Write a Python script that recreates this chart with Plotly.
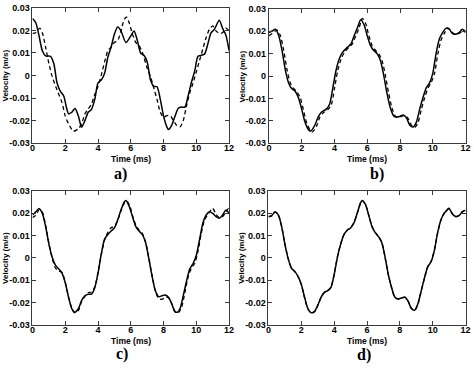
import plotly.graph_objects as go

# ---------------- data ----------------
t_a_solid = [0, 0.2, 0.4, 0.6, 0.8, 1.1, 1.3, 1.5, 1.7, 1.9, 2.1, 2.2, 2.4, 2.6, 2.8, 3.0, 3.2, 3.4, 3.6, 3.8,
             4.0, 4.2, 4.4, 4.6, 4.8, 5.0, 5.2, 5.4, 5.7, 6.0, 6.2, 6.4, 6.6, 6.8, 7.0, 7.2, 7.4, 7.6, 7.8,
             8.0, 8.2, 8.3, 8.5, 8.7, 8.9, 9.1, 9.3, 9.5, 9.7, 9.9, 10.1, 10.3, 10.5, 10.7, 10.9, 11.1,
             11.4, 11.6, 11.8, 12.0]
v_a_solid = [0.0253, 0.0234, 0.0176, 0.011, 0.0087, 0.0085, 0.0053, -0.0033, -0.007, -0.009, -0.015, -0.017,
             -0.0163, -0.0146, -0.018, -0.0229, -0.020, -0.0163, -0.015, -0.0106, -0.0033, -0.002, 0.001,
             0.0082, 0.0126, 0.0184, 0.0215, 0.0198, 0.0147, 0.0176, 0.0198, 0.0155, 0.0100, 0.009, 0.006,
             -0.0019, -0.0048, -0.005, -0.0106, -0.018, -0.0228, -0.024, -0.022, -0.018, -0.0145, -0.014,
             -0.014, -0.009, -0.003, 0.002, 0.0085, 0.009, 0.0095, 0.014, 0.019, 0.0205, 0.0245, 0.021,
             0.018, 0.011]

t_a_dash = [0, 0.2, 0.45, 0.6, 0.8, 1.0, 1.2, 1.5, 1.8, 2.0, 2.2, 2.5, 2.8, 3.0, 3.2, 3.4, 3.6, 3.8, 4.0,
            4.2, 4.4, 4.6, 4.8, 5.0, 5.2, 5.4, 5.6, 5.75, 5.9, 6.1, 6.3, 6.5, 6.7, 7.0, 7.2, 7.4, 7.6, 7.8,
            8.0, 8.2, 8.4, 8.6, 8.8, 9.0, 9.2, 9.4, 9.6, 9.8, 10.0, 10.2, 10.4, 10.6, 10.8, 11.0, 11.2,
            11.4, 11.6, 11.8, 12.0]
v_a_dash = [0.0187, 0.019, 0.021, 0.019, 0.0126, 0.0053, -0.0004, -0.0065, -0.012, -0.018, -0.0214, -0.0247,
            -0.0236, -0.0214, -0.017, -0.0149, -0.0127, -0.0084, -0.0048, 0.0003, 0.006, 0.011, 0.0126,
            0.0147, 0.0155, 0.0198, 0.0249, 0.0259, 0.0234, 0.0184, 0.0147, 0.0133, 0.0104, 0.0032, -0.0004,
            -0.0055, -0.0106, -0.0163, -0.0185, -0.0178, -0.0178, -0.020, -0.0221, -0.0228, -0.020, -0.0134,
            -0.0077, -0.0033, 0.0017, 0.0068, 0.0119, 0.0169, 0.0205, 0.022, 0.0198, 0.0187, 0.019, 0.021,
            0.0198]

t_b_solid = [0, 0.2, 0.4, 0.6, 0.8, 1.0, 1.2, 1.4, 1.6, 1.8, 2.0, 2.2, 2.4, 2.55, 2.8, 3.0, 3.2, 3.5, 3.7,
             3.9, 4.1, 4.3, 4.5, 4.8, 5.0, 5.2, 5.4, 5.6, 5.8, 6.0, 6.2, 6.4, 6.6, 6.8, 7.0, 7.2, 7.4, 7.6,
             7.8, 8.0, 8.2, 8.4, 8.6, 8.8, 9.0, 9.2, 9.4, 9.6, 9.8, 10.0, 10.2, 10.4, 10.6, 10.8, 11.0,
             11.2, 11.4, 11.6, 11.8, 12.0]
v_b_solid = [0.0194, 0.0201, 0.0209, 0.018, 0.0114, 0.0027, -0.0031, -0.0057, -0.0068, -0.0097, -0.0148,
             -0.0206, -0.0239, -0.0246, -0.022, -0.0184, -0.0162, -0.0148, -0.0126, -0.0053, 0.0027, 0.0078,
             0.0107, 0.0129, 0.0143, 0.018, 0.0216, 0.0252, 0.023, 0.018, 0.0136, 0.0114, 0.010, 0.007,
             0.0005, -0.0075, -0.014, -0.0177, -0.0184, -0.018, -0.0174, -0.0188, -0.022, -0.0228, -0.0206,
             -0.0148, -0.0097, -0.0053, -0.0031, 0.0012, 0.010, 0.0165, 0.0194, 0.0213, 0.0209, 0.019,
             0.0187, 0.0194, 0.0209, 0.0194]

t_b_dash = [0, 0.2, 0.5, 0.7, 0.9, 1.1, 1.3, 1.5, 1.7, 1.9, 2.1, 2.3, 2.5, 2.65, 2.9, 3.1, 3.3, 3.6, 3.8,
            4.0, 4.2, 4.4, 4.6, 4.9, 5.1, 5.3, 5.5, 5.7, 5.9, 6.1, 6.3, 6.5, 6.7, 6.9, 7.1, 7.3, 7.5, 7.7,
            7.9, 8.1, 8.3, 8.5, 8.7, 8.9, 9.1, 9.3, 9.5, 9.7, 9.9, 10.1, 10.3, 10.5, 10.7, 10.9, 11.1,
            11.3, 11.5, 11.7, 11.9, 12.0]
v_b_dash = [0.018, 0.019, 0.0205, 0.018, 0.0115, 0.003, -0.003, -0.0055, -0.007, -0.0095, -0.015, -0.021,
            -0.024, -0.025, -0.0225, -0.0185, -0.0165, -0.015, -0.013, -0.0055, 0.0025, 0.0075, 0.0105,
            0.013, 0.0145, 0.018, 0.0215, 0.0258, 0.0235, 0.018, 0.0135, 0.0115, 0.010, 0.007, 0.0005,
            -0.0075, -0.014, -0.0178, -0.0185, -0.018, -0.0176, -0.019, -0.022, -0.023, -0.0208, -0.015,
            -0.0098, -0.0055, -0.003, 0.001, 0.0095, 0.016, 0.019, 0.0215, 0.0205, 0.0188, 0.0187, 0.0195,
            0.0205, 0.020]

t_c_solid = [0, 0.2, 0.4, 0.6, 0.8, 1.0, 1.2, 1.4, 1.6, 1.8, 2.0, 2.2, 2.4, 2.55, 2.8, 3.0, 3.2, 3.4, 3.6,
             3.8, 4.0, 4.2, 4.4, 4.6, 4.8, 5.0, 5.2, 5.4, 5.6, 5.7, 5.9, 6.1, 6.3, 6.5, 6.7, 6.9, 7.1, 7.3,
             7.5, 7.7, 7.9, 8.1, 8.3, 8.5, 8.7, 8.85, 9.0, 9.2, 9.4, 9.6, 9.8, 10.0, 10.2, 10.4, 10.6,
             10.8, 11.0, 11.2, 11.4, 11.6, 11.8, 12.0]
v_c_solid = [0.0192, 0.0206, 0.0221, 0.0199, 0.0141, 0.0062, 0.0004, -0.0032, -0.0049, -0.0068, -0.0111,
             -0.0176, -0.0227, -0.0244, -0.0227, -0.019, -0.0169, -0.0162, -0.0162, -0.0133, -0.0068,
             0.0019, 0.0084, 0.0105, 0.012, 0.0134, 0.017, 0.0214, 0.025, 0.0257, 0.0231, 0.0185, 0.0141,
             0.012, 0.0105, 0.0069, -0.0003, -0.0082, -0.0147, -0.0173, -0.0169, -0.0166, -0.0176, -0.0205,
             -0.0241, -0.0242, -0.0227, -0.0169, -0.0104, -0.0049, -0.0025, 0.0012, 0.0084, 0.0156, 0.0192,
             0.0206, 0.0199, 0.0185, 0.0177, 0.0192, 0.0214, 0.0199]

t_c_dash = [0, 0.2, 0.4, 0.6, 0.8, 1.0, 1.2, 1.4, 1.6, 1.8, 2.0, 2.2, 2.4, 2.6, 2.8, 3.0, 3.2, 3.4, 3.6,
            3.8, 4.0, 4.2, 4.4, 4.6, 4.8, 5.0, 5.2, 5.4, 5.6, 5.75, 5.95, 6.1, 6.3, 6.5, 6.7, 6.9, 7.1, 7.3,
            7.5, 7.7, 7.9, 8.1, 8.3, 8.5, 8.7, 8.9, 9.1, 9.3, 9.5, 9.7, 9.9, 10.1, 10.3, 10.5, 10.7, 10.9,
            11.0, 11.2, 11.4, 11.6, 11.8, 11.95, 12.0]
v_c_dash = [0.018, 0.019, 0.0215, 0.0205, 0.0145, 0.0065, 0.0, -0.0045, -0.0058, -0.0065, -0.011, -0.0175,
            -0.0225, -0.0245, -0.0235, -0.0195, -0.0172, -0.0155, -0.0152, -0.013, -0.0065, 0.0015, 0.008,
            0.0115, 0.0135, 0.014, 0.0168, 0.021, 0.0245, 0.0255, 0.023, 0.019, 0.0148, 0.0125, 0.011,
            0.0072, 0.0, -0.008, -0.0148, -0.0182, -0.0185, -0.0175, -0.0178, -0.0205, -0.0238, -0.0245,
            -0.022, -0.0155, -0.0085, -0.0045, -0.0025, 0.003, 0.011, 0.017, 0.0195, 0.0215, 0.0222,
            0.0195, 0.018, 0.0185, 0.0205, 0.022, 0.0215]

t_d_solid = [0, 0.2, 0.4, 0.6, 0.8, 1.0, 1.2, 1.4, 1.6, 1.8, 2.0, 2.2, 2.4, 2.6, 2.8, 3.0, 3.2, 3.4, 3.6,
             3.8, 4.0, 4.2, 4.4, 4.6, 4.8, 5.0, 5.2, 5.4, 5.6, 5.7, 5.9, 6.1, 6.3, 6.5, 6.7, 6.9, 7.1, 7.3,
             7.5, 7.7, 7.9, 8.1, 8.3, 8.5, 8.7, 8.9, 9.1, 9.3, 9.5, 9.7, 9.9, 10.1, 10.3, 10.5, 10.7, 10.9,
             11.0, 11.2, 11.4, 11.6, 11.8, 12.0]
v_d_solid = [0.0185, 0.0189, 0.0206, 0.0192, 0.0141, 0.0062, -0.0003, -0.0046, -0.006, -0.0082, -0.0118,
             -0.0176, -0.0226, -0.0245, -0.024, -0.0212, -0.0176, -0.0154, -0.0147, -0.0133, -0.0075,
             0.0004, 0.0062, 0.0105, 0.0124, 0.0134, 0.0156, 0.0199, 0.0245, 0.0257, 0.024, 0.0192, 0.0141,
             0.0113, 0.0095, 0.0069, 0.0004, -0.0075, -0.0133, -0.0176, -0.0183, -0.0179, -0.0176, -0.0193,
             -0.0226, -0.0234, -0.0205, -0.0147, -0.0089, -0.0039, -0.0017, 0.0033, 0.0113, 0.017, 0.0199,
             0.0216, 0.0221, 0.0196, 0.0185, 0.0189, 0.0206, 0.0213]

t_d_dash = [0, 0.2, 0.4, 0.6, 0.8, 1.0, 1.2, 1.4, 1.6, 1.8, 2.0, 2.2, 2.4, 2.6, 2.8, 3.0, 3.2, 3.4, 3.6,
            3.8, 4.0, 4.2, 4.4, 4.6, 4.8, 5.0, 5.2, 5.4, 5.6, 5.7, 5.9, 6.1, 6.3, 6.5, 6.7, 6.9, 7.1, 7.3,
            7.5, 7.7, 7.9, 8.1, 8.3, 8.5, 8.7, 8.9, 9.1, 9.3, 9.5, 9.7, 9.9, 10.1, 10.3, 10.5, 10.7, 10.9,
            11.0, 11.2, 11.4, 11.6, 11.8, 12.0]
v_d_dash = [0.0183, 0.0188, 0.0205, 0.0193, 0.0143, 0.0064, -0.0002, -0.0045, -0.0061, -0.0083, -0.012,
            -0.0178, -0.0228, -0.0246, -0.0241, -0.0213, -0.0177, -0.0155, -0.0146, -0.0131, -0.0073,
            0.0006, 0.0063, 0.0104, 0.0125, 0.0135, 0.0157, 0.0198, 0.0244, 0.0256, 0.0241, 0.0193, 0.0142,
            0.0114, 0.0096, 0.0068, 0.0003, -0.0076, -0.0134, -0.0177, -0.0184, -0.0178, -0.0175, -0.0192,
            -0.0225, -0.0235, -0.0206, -0.0148, -0.009, -0.0038, -0.0015, 0.0035, 0.0112, 0.0169, 0.02,
            0.0217, 0.0222, 0.0197, 0.0184, 0.019, 0.0207, 0.0212]

x_ticks = [0, 2, 4, 6, 8, 10, 12]
y_ticks = [-0.03, -0.02, -0.01, 0, 0.01, 0.02, 0.03]
y_tick_labels = ["-0.03", "-0.02", "-0.01", "0", "0.01", "0.02", "0.03"]
panel_labels = ["a)", "b)", "c)", "d)"]
x_title = "Time (ms)"
y_title = "Velocity (m/s)"

# ---------------- layout geometry ----------------
W, H = 474, 368
# pixel boxes: (left, right, top, bottom)
boxes = [(30, 230, 3, 142), (270.5, 470.5, 4, 142), (30, 230, 191, 329), (270, 470.5, 191, 329)]
label_pos = [(120, 174), (380, 174), (121, 359), (367, 360)]

series = [
    (t_a_solid, v_a_solid, t_a_dash, v_a_dash),
    (t_b_solid, v_b_solid, t_b_dash, v_b_dash),
    (t_c_solid, v_c_solid, t_c_dash, v_c_dash),
    (t_d_solid, v_d_solid, t_d_dash, v_d_dash),
]

fig = go.Figure()
axis_color = "#3a3a3a"
tickfont = dict(family="Liberation Sans, Arial", size=9, color="black", weight="bold")
annotations = []
layout_axes = {}

for i, (box, (ts, vs, td, vd)) in enumerate(zip(boxes, series)):
    n = i + 1
    xa = "x" if n == 1 else f"x{n}"
    ya = "y" if n == 1 else f"y{n}"
    l, r, t, b = box
    fig.add_trace(go.Scatter(x=td, y=vd, xaxis=xa, yaxis=ya, mode="lines",
                             line=dict(color="black", width=1.3, dash="4px,3px", shape="spline", smoothing=0.7),
                             showlegend=False))
    fig.add_trace(go.Scatter(x=ts, y=vs, xaxis=xa, yaxis=ya, mode="lines",
                             line=dict(color="black", width=1.5, shape="spline", smoothing=0.7),
                             showlegend=False))
    xkey = "xaxis" if n == 1 else f"xaxis{n}"
    ykey = "yaxis" if n == 1 else f"yaxis{n}"
    layout_axes[xkey] = dict(domain=[l / W, r / W], anchor=ya, range=[0, 12], tickvals=x_ticks,
                             ticks="inside", ticklen=4, tickcolor=axis_color, showline=True,
                             linecolor=axis_color, linewidth=1, mirror="ticks", showgrid=False,
                             zeroline=False, tickfont=tickfont, ticklabeloverflow="allow",
                             ticklabelstandoff=-4)
    layout_axes[ykey] = dict(domain=[1 - b / H, 1 - t / H], anchor=xa, range=[-0.03, 0.03],
                             tickvals=y_ticks, ticktext=y_tick_labels, ticks="inside", ticklen=4,
                             tickcolor=axis_color, showline=True, linecolor=axis_color, linewidth=1,
                             mirror="ticks", showgrid=False, zeroline=False, tickfont=tickfont,
                             ticklabeloverflow="allow")
    # x title
    annotations.append(dict(text=x_title, x=(l + r) / 2 / W, y=1 - (b + 16.5) / H, xref="paper",
                            yref="paper", showarrow=False, xanchor="center", yanchor="middle",
                            font=dict(family="Liberation Sans, Arial", size=8.5, color="black", weight="bold")))
    # y title
    annotations.append(dict(text=y_title, x=(l - 27) / W, y=1 - (t + b) / 2 / H, xref="paper",
                            yref="paper", showarrow=False, textangle=-90, xanchor="center",
                            yanchor="middle",
                            font=dict(family="Liberation Sans, Arial", size=8, color="black", weight="bold")))
    # panel label
    lx, ly = label_pos[i]
    annotations.append(dict(text=panel_labels[i], x=lx / W, y=1 - ly / H, xref="paper", yref="paper",
                            showarrow=False, xanchor="center", yanchor="middle",
                            font=dict(family="Liberation Serif, Times New Roman", size=16, color="black",
                                      weight="bold")))

fig.update_layout(width=W, height=H, margin=dict(l=0, r=0, t=0, b=0), paper_bgcolor="white",
                  plot_bgcolor="white", annotations=annotations, **layout_axes)

fig.write_html("out.html", config={"displayModeBar": False},
               post_script="document.body.style.margin='0';document.body.style.overflow='hidden';")
